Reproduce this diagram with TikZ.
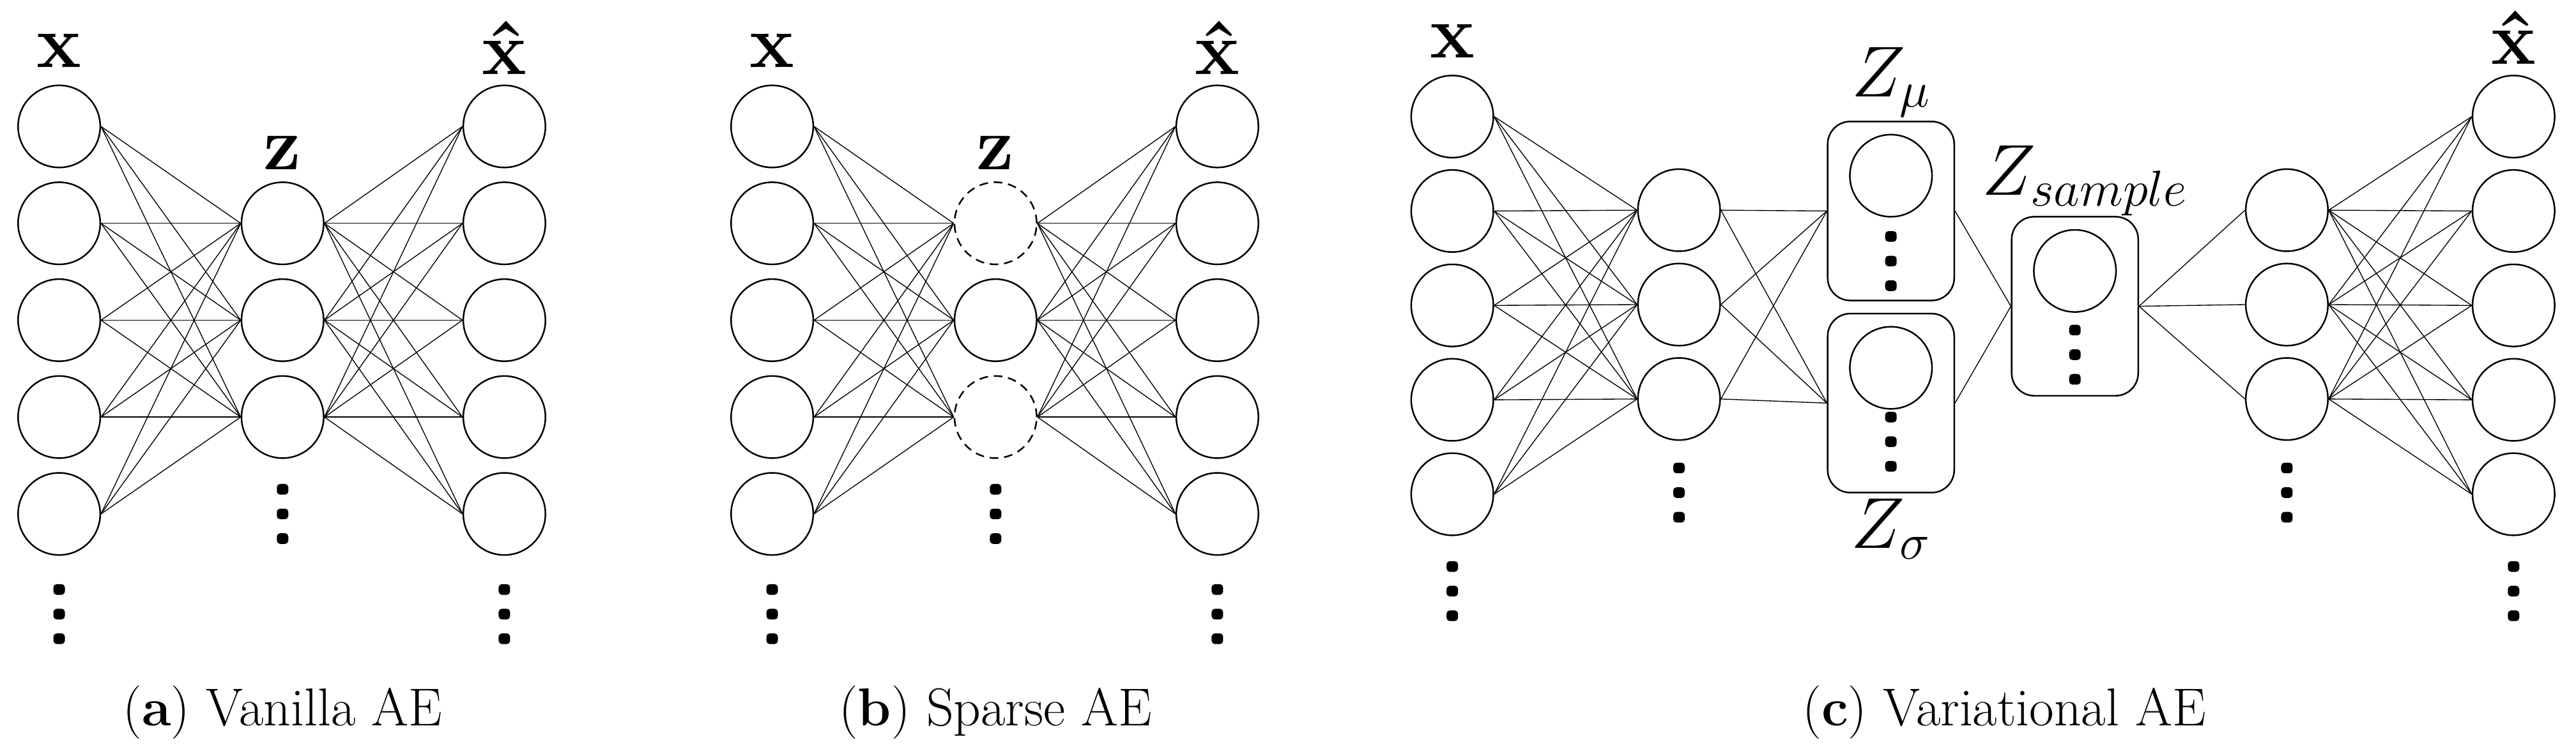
\RequirePackage{fix-cm}
\documentclass[tikz,border=0pt]{standalone}
\usepackage{tikz}
\usetikzlibrary{calc}

\newcommand{\stackdots}[2]{%
  \foreach \d in {-15,0,15} \fill[rounded corners=0.08cm] ($(#1,#2+\d)+(-0.14cm,-0.13cm)$) rectangle ++(0.28cm,0.26cm);}

\begin{document}
\begin{tikzpicture}[x=0.04cm, y=-0.04cm,
  neuron/.style={circle, draw, line width=1.1pt, minimum size=2cm, inner sep=0pt},
  box/.style={draw, line width=1.1pt, rounded corners=0.55cm, minimum width=3.08cm, minimum height=4.36cm, inner sep=0pt},
  link/.style={line width=0.6pt},
  lbl/.style={font=\fontsize{52}{52}\selectfont\bfseries},
  zlbl/.style={font=\fontsize{50}{50}\selectfont},
  captxt/.style={font=\fontsize{37}{37}\selectfont},
  b-z1/.style={dash pattern=on 6pt off 4pt}, b-z3/.style={dash pattern=on 6pt off 4pt}]

\useasboundingbox (0,0) rectangle (1568,456);

%% (a) and (b)
\foreach \p/\dx/\txt in {a/0/Vanilla AE, b/434/Sparse AE}{
  \foreach \i in {1,...,5}{
    \node[neuron] (\p-in-\i) at (36+\dx, 77+59*\i-59) {};
    \node[neuron] (\p-out-\i) at (307+\dx, 77+59*\i-59) {};
  }
  \foreach \j in {1,2,3}
    \node[neuron, \p-z\j/.try] (\p-z\j) at (172+\dx, 136+59*\j-59) {};
  \foreach \i in {1,...,5}
    \foreach \j in {1,2,3}{
      \draw[link] (\p-in-\i.east) -- (\p-z\j.west);
      \draw[link] (\p-z\j.east) -- (\p-out-\i.west);
    }
  \node[lbl] (\p-x) at (36+\dx, 31) {x};
  \node[lbl] (\p-z) at (172+\dx, 93) {z};
  \node[lbl] (\p-xh) at (307+\dx, 29) {\^x};
  \stackdots{36+\dx}{374}
  \stackdots{172+\dx}{313}
  \stackdots{307+\dx}{374}
  \node[captxt] (\p-cap) at (172+\dx, 434) {(\textbf{\p}) \txt};
}

%% (c)
\foreach \i in {1,...,5}{
  \node[neuron] (c-in-\i) at (884, 71+57.5*\i-57.5) {};
  \node[neuron] (c-out-\i) at (1530, 71+57.5*\i-57.5) {};
}
\foreach \j in {1,2,3}{
  \node[neuron] (c-h\j) at (1022, 128+57.5*\j-57.5) {};
  \node[neuron] (c-g\j) at (1392, 128+57.5*\j-57.5) {};
}
\node[box] (mu) at (1151, 128.5) {};
\node[box] (sigma) at (1151, 245.5) {};
\node[box] (sample) at (1263, 186.5) {};
\node[neuron] (mu-n) at (1151, 107) {};
\node[neuron] (sigma-n) at (1151, 224) {};
\node[neuron] (sample-n) at (1263, 165) {};
\stackdots{1151}{159}
\stackdots{1151}{269}
\stackdots{1263}{216}

\foreach \i in {1,...,5}
  \foreach \j in {1,2,3}{
    \draw[link] (c-in-\i.east) -- (c-h\j.west);
    \draw[link] (c-g\j.east) -- (c-out-\i.west);
  }
\foreach \j in {1,2,3}{
  \draw[link] (c-h\j.east) -- (mu.west);
  \draw[link] (c-h\j.east) -- (sigma.west);
  \draw[link] (sample.east) -- (c-g\j.west);
}
\draw[link] (mu.east) -- (sample.west);
\draw[link] (sigma.east) -- (sample.west);

\node[lbl] (c-x) at (884, 25) {x};
\node[lbl] (c-xh) at (1530, 23) {\^x};
\node[zlbl] (mu-l) at (1151, 50) {$Z_{\mu}$};
\node[zlbl] (sigma-l) at (1151, 322) {$Z_{\sigma}$};
\node[zlbl] (sample-l) at (1269, 110) {$Z_{sample}$};
\stackdots{884}{360}
\stackdots{1022}{300}
\stackdots{1392}{300}
\stackdots{1530}{360}
\node[captxt] (c-cap) at (1220, 434) {(\textbf{c}) Variational AE};

\end{tikzpicture}
\end{document}
